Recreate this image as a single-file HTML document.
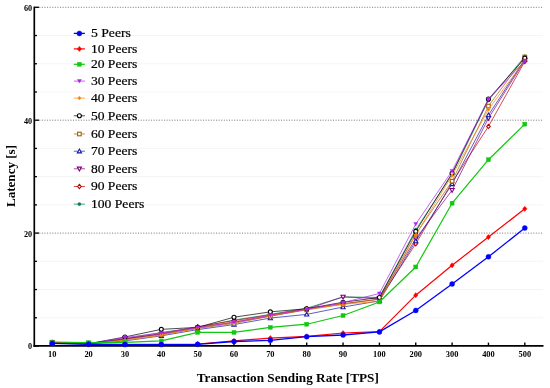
<!DOCTYPE html><html><head><meta charset="utf-8"><title>Latency vs Transaction Sending Rate</title>
<style>html,body{margin:0;padding:0;background:#fff}body{width:550px;height:388px;overflow:hidden}svg{display:block}text{font-family:"Liberation Serif","DejaVu Serif",serif}</style></head><body>
<svg width="550" height="388" viewBox="0 0 550 388">
<rect width="550" height="388" fill="#fff"/>
<line x1="34" x2="543" y1="317.77" y2="317.77" stroke="#f3f3f3" stroke-width="0.8"/>
<line x1="34" x2="543" y1="289.55" y2="289.55" stroke="#f3f3f3" stroke-width="0.8"/>
<line x1="34" x2="543" y1="261.32" y2="261.32" stroke="#f3f3f3" stroke-width="0.8"/>
<line x1="34" x2="543" y1="204.88" y2="204.88" stroke="#f3f3f3" stroke-width="0.8"/>
<line x1="34" x2="543" y1="176.65" y2="176.65" stroke="#f3f3f3" stroke-width="0.8"/>
<line x1="34" x2="543" y1="148.43" y2="148.43" stroke="#f3f3f3" stroke-width="0.8"/>
<line x1="34" x2="543" y1="91.98" y2="91.98" stroke="#f3f3f3" stroke-width="0.8"/>
<line x1="34" x2="543" y1="63.75" y2="63.75" stroke="#f3f3f3" stroke-width="0.8"/>
<line x1="34" x2="543" y1="35.53" y2="35.53" stroke="#f3f3f3" stroke-width="0.8"/>
<line x1="34" x2="543" y1="233.10" y2="233.10" stroke="#808080" stroke-width="1" stroke-dasharray="1.1 1.5"/>
<line x1="34" x2="543" y1="120.20" y2="120.20" stroke="#808080" stroke-width="1" stroke-dasharray="1.1 1.5"/>
<line x1="34" x2="543" y1="7.30" y2="7.30" stroke="#808080" stroke-width="1" stroke-dasharray="1.1 1.5"/>
<line x1="34.3" x2="34.3" y1="6.7" y2="346.7" stroke="#000" stroke-width="1.7"/>
<line x1="33.5" x2="543.5" y1="345.9" y2="345.9" stroke="#000" stroke-width="1.7"/>
<line x1="34" x2="39" y1="346.00" y2="346.00" stroke="#000" stroke-width="1.3"/>
<line x1="34" x2="37" y1="317.77" y2="317.77" stroke="#000" stroke-width="1.3"/>
<line x1="34" x2="37" y1="289.55" y2="289.55" stroke="#000" stroke-width="1.3"/>
<line x1="34" x2="37" y1="261.32" y2="261.32" stroke="#000" stroke-width="1.3"/>
<line x1="34" x2="39" y1="233.10" y2="233.10" stroke="#000" stroke-width="1.3"/>
<line x1="34" x2="37" y1="204.88" y2="204.88" stroke="#000" stroke-width="1.3"/>
<line x1="34" x2="37" y1="176.65" y2="176.65" stroke="#000" stroke-width="1.3"/>
<line x1="34" x2="37" y1="148.43" y2="148.43" stroke="#000" stroke-width="1.3"/>
<line x1="34" x2="39" y1="120.20" y2="120.20" stroke="#000" stroke-width="1.3"/>
<line x1="34" x2="37" y1="91.98" y2="91.98" stroke="#000" stroke-width="1.3"/>
<line x1="34" x2="37" y1="63.75" y2="63.75" stroke="#000" stroke-width="1.3"/>
<line x1="34" x2="37" y1="35.53" y2="35.53" stroke="#000" stroke-width="1.3"/>
<line x1="34" x2="39" y1="7.30" y2="7.30" stroke="#000" stroke-width="1.3"/>
<line x1="52.25" x2="52.25" y1="346" y2="342.6" stroke="#000" stroke-width="1.4"/>
<text x="52.25" y="357.4" font-size="8.4" font-weight="bold" text-anchor="middle">10</text>
<line x1="88.60" x2="88.60" y1="346" y2="342.6" stroke="#000" stroke-width="1.4"/>
<text x="88.60" y="357.4" font-size="8.4" font-weight="bold" text-anchor="middle">20</text>
<line x1="124.95" x2="124.95" y1="346" y2="342.6" stroke="#000" stroke-width="1.4"/>
<text x="124.95" y="357.4" font-size="8.4" font-weight="bold" text-anchor="middle">30</text>
<line x1="161.30" x2="161.30" y1="346" y2="342.6" stroke="#000" stroke-width="1.4"/>
<text x="161.30" y="357.4" font-size="8.4" font-weight="bold" text-anchor="middle">40</text>
<line x1="197.65" x2="197.65" y1="346" y2="342.6" stroke="#000" stroke-width="1.4"/>
<text x="197.65" y="357.4" font-size="8.4" font-weight="bold" text-anchor="middle">50</text>
<line x1="234.00" x2="234.00" y1="346" y2="342.6" stroke="#000" stroke-width="1.4"/>
<text x="234.00" y="357.4" font-size="8.4" font-weight="bold" text-anchor="middle">60</text>
<line x1="270.35" x2="270.35" y1="346" y2="342.6" stroke="#000" stroke-width="1.4"/>
<text x="270.35" y="357.4" font-size="8.4" font-weight="bold" text-anchor="middle">70</text>
<line x1="306.70" x2="306.70" y1="346" y2="342.6" stroke="#000" stroke-width="1.4"/>
<text x="306.70" y="357.4" font-size="8.4" font-weight="bold" text-anchor="middle">80</text>
<line x1="343.05" x2="343.05" y1="346" y2="342.6" stroke="#000" stroke-width="1.4"/>
<text x="343.05" y="357.4" font-size="8.4" font-weight="bold" text-anchor="middle">90</text>
<line x1="379.40" x2="379.40" y1="346" y2="342.6" stroke="#000" stroke-width="1.4"/>
<text x="379.40" y="357.4" font-size="8.4" font-weight="bold" text-anchor="middle">100</text>
<line x1="415.75" x2="415.75" y1="346" y2="342.6" stroke="#000" stroke-width="1.4"/>
<text x="415.75" y="357.4" font-size="8.4" font-weight="bold" text-anchor="middle">200</text>
<line x1="452.10" x2="452.10" y1="346" y2="342.6" stroke="#000" stroke-width="1.4"/>
<text x="452.10" y="357.4" font-size="8.4" font-weight="bold" text-anchor="middle">300</text>
<line x1="488.45" x2="488.45" y1="346" y2="342.6" stroke="#000" stroke-width="1.4"/>
<text x="488.45" y="357.4" font-size="8.4" font-weight="bold" text-anchor="middle">400</text>
<line x1="524.80" x2="524.80" y1="346" y2="342.6" stroke="#000" stroke-width="1.4"/>
<text x="524.80" y="357.4" font-size="8.4" font-weight="bold" text-anchor="middle">500</text>
<text x="32.2" y="349.40" font-size="8.2" font-weight="bold" text-anchor="end">0</text>
<text x="32.2" y="236.50" font-size="8.2" font-weight="bold" text-anchor="end">20</text>
<text x="32.2" y="123.60" font-size="8.2" font-weight="bold" text-anchor="end">40</text>
<text x="32.2" y="10.70" font-size="8.2" font-weight="bold" text-anchor="end">60</text>
<polyline points="52.25,342.61 88.60,343.74 124.95,338.66 161.30,332.45 197.65,327.37 234.00,320.03 270.35,314.39 306.70,308.18 343.05,296.89 379.40,297.45 415.75,229.71 452.10,174.39 488.45,100.44 524.80,56.41" fill="none" stroke="#008050" stroke-width="0.7" stroke-linejoin="round"/>
<circle cx="52.25" cy="342.61" r="1.60" fill="#008050" stroke="#008050" stroke-width="0.4"/>
<circle cx="88.60" cy="343.74" r="1.60" fill="#008050" stroke="#008050" stroke-width="0.4"/>
<circle cx="124.95" cy="338.66" r="1.60" fill="#008050" stroke="#008050" stroke-width="0.4"/>
<circle cx="161.30" cy="332.45" r="1.60" fill="#008050" stroke="#008050" stroke-width="0.4"/>
<circle cx="197.65" cy="327.37" r="1.60" fill="#008050" stroke="#008050" stroke-width="0.4"/>
<circle cx="234.00" cy="320.03" r="1.60" fill="#008050" stroke="#008050" stroke-width="0.4"/>
<circle cx="270.35" cy="314.39" r="1.60" fill="#008050" stroke="#008050" stroke-width="0.4"/>
<circle cx="306.70" cy="308.18" r="1.60" fill="#008050" stroke="#008050" stroke-width="0.4"/>
<circle cx="343.05" cy="296.89" r="1.60" fill="#008050" stroke="#008050" stroke-width="0.4"/>
<circle cx="379.40" cy="297.45" r="1.60" fill="#008050" stroke="#008050" stroke-width="0.4"/>
<circle cx="415.75" cy="229.71" r="1.60" fill="#008050" stroke="#008050" stroke-width="0.4"/>
<circle cx="452.10" cy="174.39" r="1.60" fill="#008050" stroke="#008050" stroke-width="0.4"/>
<circle cx="488.45" cy="100.44" r="1.60" fill="#008050" stroke="#008050" stroke-width="0.4"/>
<circle cx="524.80" cy="56.41" r="1.60" fill="#008050" stroke="#008050" stroke-width="0.4"/>
<polyline points="52.25,342.61 88.60,343.74 124.95,339.23 161.30,333.58 197.65,326.81 234.00,320.60 270.35,314.95 306.70,308.74 343.05,303.66 379.40,299.15 415.75,243.83 452.10,182.30 488.45,126.41 524.80,61.49" fill="none" stroke="#c00000" stroke-width="0.7" stroke-linejoin="round"/>
<polygon points="52.25,340.51 54.03,342.61 52.25,344.71 50.47,342.61" fill="#fff" stroke="#c00000" stroke-width="1.1"/>
<polygon points="88.60,341.64 90.38,343.74 88.60,345.84 86.81,343.74" fill="#fff" stroke="#c00000" stroke-width="1.1"/>
<polygon points="124.95,337.13 126.73,339.23 124.95,341.33 123.17,339.23" fill="#fff" stroke="#c00000" stroke-width="1.1"/>
<polygon points="161.30,331.48 163.09,333.58 161.30,335.68 159.52,333.58" fill="#fff" stroke="#c00000" stroke-width="1.1"/>
<polygon points="197.65,324.71 199.44,326.81 197.65,328.91 195.87,326.81" fill="#fff" stroke="#c00000" stroke-width="1.1"/>
<polygon points="234.00,318.50 235.78,320.60 234.00,322.70 232.22,320.60" fill="#fff" stroke="#c00000" stroke-width="1.1"/>
<polygon points="270.35,312.85 272.14,314.95 270.35,317.05 268.56,314.95" fill="#fff" stroke="#c00000" stroke-width="1.1"/>
<polygon points="306.70,306.64 308.49,308.74 306.70,310.84 304.92,308.74" fill="#fff" stroke="#c00000" stroke-width="1.1"/>
<polygon points="343.05,301.56 344.84,303.66 343.05,305.76 341.26,303.66" fill="#fff" stroke="#c00000" stroke-width="1.1"/>
<polygon points="379.40,297.05 381.19,299.15 379.40,301.25 377.62,299.15" fill="#fff" stroke="#c00000" stroke-width="1.1"/>
<polygon points="415.75,241.73 417.54,243.83 415.75,245.93 413.96,243.83" fill="#fff" stroke="#c00000" stroke-width="1.1"/>
<polygon points="452.10,180.20 453.89,182.30 452.10,184.40 450.31,182.30" fill="#fff" stroke="#c00000" stroke-width="1.1"/>
<polygon points="488.45,124.31 490.24,126.41 488.45,128.51 486.67,126.41" fill="#fff" stroke="#c00000" stroke-width="1.1"/>
<polygon points="524.80,59.39 526.58,61.49 524.80,63.59 523.01,61.49" fill="#fff" stroke="#c00000" stroke-width="1.1"/>
<polyline points="52.25,342.61 88.60,343.74 124.95,338.66 161.30,334.15 197.65,327.94 234.00,322.29 270.35,316.08 306.70,309.31 343.05,296.89 379.40,298.58 415.75,238.75 452.10,190.20 488.45,118.22 524.80,60.36" fill="none" stroke="#800080" stroke-width="0.7" stroke-linejoin="round"/>
<polygon points="52.25,344.71 54.35,340.93 50.15,340.93" fill="#fff" stroke="#800080" stroke-width="1.1"/>
<polygon points="88.60,345.84 90.70,342.06 86.50,342.06" fill="#fff" stroke="#800080" stroke-width="1.1"/>
<polygon points="124.95,340.76 127.05,336.98 122.85,336.98" fill="#fff" stroke="#800080" stroke-width="1.1"/>
<polygon points="161.30,336.25 163.40,332.47 159.20,332.47" fill="#fff" stroke="#800080" stroke-width="1.1"/>
<polygon points="197.65,330.04 199.75,326.26 195.55,326.26" fill="#fff" stroke="#800080" stroke-width="1.1"/>
<polygon points="234.00,324.39 236.10,320.61 231.90,320.61" fill="#fff" stroke="#800080" stroke-width="1.1"/>
<polygon points="270.35,318.18 272.45,314.40 268.25,314.40" fill="#fff" stroke="#800080" stroke-width="1.1"/>
<polygon points="306.70,311.41 308.80,307.63 304.60,307.63" fill="#fff" stroke="#800080" stroke-width="1.1"/>
<polygon points="343.05,298.99 345.15,295.21 340.95,295.21" fill="#fff" stroke="#800080" stroke-width="1.1"/>
<polygon points="379.40,300.68 381.50,296.90 377.30,296.90" fill="#fff" stroke="#800080" stroke-width="1.1"/>
<polygon points="415.75,240.84 417.85,237.06 413.65,237.06" fill="#fff" stroke="#800080" stroke-width="1.1"/>
<polygon points="452.10,192.30 454.20,188.52 450.00,188.52" fill="#fff" stroke="#800080" stroke-width="1.1"/>
<polygon points="488.45,120.32 490.55,116.54 486.35,116.54" fill="#fff" stroke="#800080" stroke-width="1.1"/>
<polygon points="524.80,62.46 526.90,58.68 522.70,58.68" fill="#fff" stroke="#800080" stroke-width="1.1"/>
<polyline points="52.25,342.61 88.60,343.74 124.95,340.92 161.30,335.84 197.65,329.63 234.00,324.55 270.35,318.06 306.70,314.39 343.05,307.05 379.40,300.84 415.75,241.00 452.10,183.99 488.45,115.12 524.80,59.23" fill="none" stroke="#1818a8" stroke-width="0.7" stroke-linejoin="round"/>
<polygon points="52.25,340.51 54.35,344.29 50.15,344.29" fill="#fff" stroke="#1818a8" stroke-width="1.1"/>
<polygon points="88.60,341.64 90.70,345.42 86.50,345.42" fill="#fff" stroke="#1818a8" stroke-width="1.1"/>
<polygon points="124.95,338.82 127.05,342.60 122.85,342.60" fill="#fff" stroke="#1818a8" stroke-width="1.1"/>
<polygon points="161.30,333.74 163.40,337.52 159.20,337.52" fill="#fff" stroke="#1818a8" stroke-width="1.1"/>
<polygon points="197.65,327.53 199.75,331.31 195.55,331.31" fill="#fff" stroke="#1818a8" stroke-width="1.1"/>
<polygon points="234.00,322.45 236.10,326.23 231.90,326.23" fill="#fff" stroke="#1818a8" stroke-width="1.1"/>
<polygon points="270.35,315.96 272.45,319.74 268.25,319.74" fill="#fff" stroke="#1818a8" stroke-width="1.1"/>
<polygon points="306.70,312.29 308.80,316.07 304.60,316.07" fill="#fff" stroke="#1818a8" stroke-width="1.1"/>
<polygon points="343.05,304.95 345.15,308.73 340.95,308.73" fill="#fff" stroke="#1818a8" stroke-width="1.1"/>
<polygon points="379.40,298.74 381.50,302.52 377.30,302.52" fill="#fff" stroke="#1818a8" stroke-width="1.1"/>
<polygon points="415.75,238.90 417.85,242.68 413.65,242.68" fill="#fff" stroke="#1818a8" stroke-width="1.1"/>
<polygon points="452.10,181.89 454.20,185.67 450.00,185.67" fill="#fff" stroke="#1818a8" stroke-width="1.1"/>
<polygon points="488.45,113.02 490.55,116.80 486.35,116.80" fill="#fff" stroke="#1818a8" stroke-width="1.1"/>
<polygon points="524.80,57.13 526.90,60.91 522.70,60.91" fill="#fff" stroke="#1818a8" stroke-width="1.1"/>
<polyline points="52.25,342.61 88.60,343.74 124.95,339.79 161.30,334.71 197.65,328.50 234.00,323.42 270.35,316.08 306.70,309.87 343.05,304.23 379.40,299.15 415.75,234.23 452.10,181.17 488.45,106.09 524.80,56.98" fill="none" stroke="#a06010" stroke-width="0.7" stroke-linejoin="round"/>
<rect x="50.45" y="340.81" width="3.60" height="3.60" fill="#fff" stroke="#a06010" stroke-width="1.1"/>
<rect x="86.80" y="341.94" width="3.60" height="3.60" fill="#fff" stroke="#a06010" stroke-width="1.1"/>
<rect x="123.15" y="337.99" width="3.60" height="3.60" fill="#fff" stroke="#a06010" stroke-width="1.1"/>
<rect x="159.50" y="332.91" width="3.60" height="3.60" fill="#fff" stroke="#a06010" stroke-width="1.1"/>
<rect x="195.85" y="326.70" width="3.60" height="3.60" fill="#fff" stroke="#a06010" stroke-width="1.1"/>
<rect x="232.20" y="321.62" width="3.60" height="3.60" fill="#fff" stroke="#a06010" stroke-width="1.1"/>
<rect x="268.55" y="314.28" width="3.60" height="3.60" fill="#fff" stroke="#a06010" stroke-width="1.1"/>
<rect x="304.90" y="308.07" width="3.60" height="3.60" fill="#fff" stroke="#a06010" stroke-width="1.1"/>
<rect x="341.25" y="302.43" width="3.60" height="3.60" fill="#fff" stroke="#a06010" stroke-width="1.1"/>
<rect x="377.60" y="297.35" width="3.60" height="3.60" fill="#fff" stroke="#a06010" stroke-width="1.1"/>
<rect x="413.95" y="232.43" width="3.60" height="3.60" fill="#fff" stroke="#a06010" stroke-width="1.1"/>
<rect x="450.30" y="179.37" width="3.60" height="3.60" fill="#fff" stroke="#a06010" stroke-width="1.1"/>
<rect x="486.65" y="104.29" width="3.60" height="3.60" fill="#fff" stroke="#a06010" stroke-width="1.1"/>
<rect x="523.00" y="55.18" width="3.60" height="3.60" fill="#fff" stroke="#a06010" stroke-width="1.1"/>
<polyline points="52.25,342.61 88.60,343.74 124.95,336.97 161.30,329.35 197.65,327.37 234.00,317.21 270.35,311.85 306.70,308.74 343.05,302.25 379.40,297.45 415.75,231.41 452.10,173.26 488.45,99.03 524.80,58.11" fill="none" stroke="#000000" stroke-width="0.7" stroke-linejoin="round"/>
<circle cx="52.25" cy="342.61" r="2.00" fill="#fff" stroke="#000000" stroke-width="1.1"/>
<circle cx="88.60" cy="343.74" r="2.00" fill="#fff" stroke="#000000" stroke-width="1.1"/>
<circle cx="124.95" cy="336.97" r="2.00" fill="#fff" stroke="#000000" stroke-width="1.1"/>
<circle cx="161.30" cy="329.35" r="2.00" fill="#fff" stroke="#000000" stroke-width="1.1"/>
<circle cx="197.65" cy="327.37" r="2.00" fill="#fff" stroke="#000000" stroke-width="1.1"/>
<circle cx="234.00" cy="317.21" r="2.00" fill="#fff" stroke="#000000" stroke-width="1.1"/>
<circle cx="270.35" cy="311.85" r="2.00" fill="#fff" stroke="#000000" stroke-width="1.1"/>
<circle cx="306.70" cy="308.74" r="2.00" fill="#fff" stroke="#000000" stroke-width="1.1"/>
<circle cx="343.05" cy="302.25" r="2.00" fill="#fff" stroke="#000000" stroke-width="1.1"/>
<circle cx="379.40" cy="297.45" r="2.00" fill="#fff" stroke="#000000" stroke-width="1.1"/>
<circle cx="415.75" cy="231.41" r="2.00" fill="#fff" stroke="#000000" stroke-width="1.1"/>
<circle cx="452.10" cy="173.26" r="2.00" fill="#fff" stroke="#000000" stroke-width="1.1"/>
<circle cx="488.45" cy="99.03" r="2.00" fill="#fff" stroke="#000000" stroke-width="1.1"/>
<circle cx="524.80" cy="58.11" r="2.00" fill="#fff" stroke="#000000" stroke-width="1.1"/>
<polyline points="52.25,342.61 88.60,343.74 124.95,340.36 161.30,335.27 197.65,327.94 234.00,321.73 270.35,315.52 306.70,309.31 343.05,304.23 379.40,301.40 415.75,234.79 452.10,175.52 488.45,109.47 524.80,60.36" fill="none" stroke="#ff8000" stroke-width="0.7" stroke-linejoin="round"/>
<polygon points="52.25,340.71 53.87,342.61 52.25,344.51 50.63,342.61" fill="#ff8000" stroke="#ff8000" stroke-width="0.4"/>
<polygon points="88.60,341.84 90.21,343.74 88.60,345.64 86.98,343.74" fill="#ff8000" stroke="#ff8000" stroke-width="0.4"/>
<polygon points="124.95,338.46 126.56,340.36 124.95,342.25 123.34,340.36" fill="#ff8000" stroke="#ff8000" stroke-width="0.4"/>
<polygon points="161.30,333.37 162.92,335.27 161.30,337.17 159.69,335.27" fill="#ff8000" stroke="#ff8000" stroke-width="0.4"/>
<polygon points="197.65,326.04 199.27,327.94 197.65,329.84 196.03,327.94" fill="#ff8000" stroke="#ff8000" stroke-width="0.4"/>
<polygon points="234.00,319.83 235.62,321.73 234.00,323.63 232.38,321.73" fill="#ff8000" stroke="#ff8000" stroke-width="0.4"/>
<polygon points="270.35,313.62 271.97,315.52 270.35,317.42 268.74,315.52" fill="#ff8000" stroke="#ff8000" stroke-width="0.4"/>
<polygon points="306.70,307.41 308.32,309.31 306.70,311.21 305.09,309.31" fill="#ff8000" stroke="#ff8000" stroke-width="0.4"/>
<polygon points="343.05,302.33 344.67,304.23 343.05,306.13 341.44,304.23" fill="#ff8000" stroke="#ff8000" stroke-width="0.4"/>
<polygon points="379.40,299.50 381.02,301.40 379.40,303.30 377.79,301.40" fill="#ff8000" stroke="#ff8000" stroke-width="0.4"/>
<polygon points="415.75,232.89 417.37,234.79 415.75,236.69 414.13,234.79" fill="#ff8000" stroke="#ff8000" stroke-width="0.4"/>
<polygon points="452.10,173.62 453.72,175.52 452.10,177.42 450.49,175.52" fill="#ff8000" stroke="#ff8000" stroke-width="0.4"/>
<polygon points="488.45,107.57 490.07,109.47 488.45,111.37 486.84,109.47" fill="#ff8000" stroke="#ff8000" stroke-width="0.4"/>
<polygon points="524.80,58.46 526.41,60.36 524.80,62.26 523.18,60.36" fill="#ff8000" stroke="#ff8000" stroke-width="0.4"/>
<polyline points="52.25,342.61 88.60,343.74 124.95,337.53 161.30,333.02 197.65,327.37 234.00,322.29 270.35,314.95 306.70,309.31 343.05,302.53 379.40,293.50 415.75,224.07 452.10,171.01 488.45,99.31 524.80,60.93" fill="none" stroke="#b020f0" stroke-width="0.7" stroke-linejoin="round"/>
<polygon points="52.25,344.61 54.25,341.01 50.25,341.01" fill="#b020f0" stroke="#b020f0" stroke-width="0.4"/>
<polygon points="88.60,345.74 90.60,342.14 86.60,342.14" fill="#b020f0" stroke="#b020f0" stroke-width="0.4"/>
<polygon points="124.95,339.53 126.95,335.93 122.95,335.93" fill="#b020f0" stroke="#b020f0" stroke-width="0.4"/>
<polygon points="161.30,335.02 163.30,331.42 159.30,331.42" fill="#b020f0" stroke="#b020f0" stroke-width="0.4"/>
<polygon points="197.65,329.37 199.65,325.77 195.65,325.77" fill="#b020f0" stroke="#b020f0" stroke-width="0.4"/>
<polygon points="234.00,324.29 236.00,320.69 232.00,320.69" fill="#b020f0" stroke="#b020f0" stroke-width="0.4"/>
<polygon points="270.35,316.95 272.35,313.35 268.35,313.35" fill="#b020f0" stroke="#b020f0" stroke-width="0.4"/>
<polygon points="306.70,311.31 308.70,307.71 304.70,307.71" fill="#b020f0" stroke="#b020f0" stroke-width="0.4"/>
<polygon points="343.05,304.53 345.05,300.93 341.05,300.93" fill="#b020f0" stroke="#b020f0" stroke-width="0.4"/>
<polygon points="379.40,295.50 381.40,291.90 377.40,291.90" fill="#b020f0" stroke="#b020f0" stroke-width="0.4"/>
<polygon points="415.75,226.07 417.75,222.47 413.75,222.47" fill="#b020f0" stroke="#b020f0" stroke-width="0.4"/>
<polygon points="452.10,173.01 454.10,169.41 450.10,169.41" fill="#b020f0" stroke="#b020f0" stroke-width="0.4"/>
<polygon points="488.45,101.31 490.45,97.71 486.45,97.71" fill="#b020f0" stroke="#b020f0" stroke-width="0.4"/>
<polygon points="524.80,62.93 526.80,59.33 522.80,59.33" fill="#b020f0" stroke="#b020f0" stroke-width="0.4"/>
<polyline points="52.25,342.05 88.60,342.61 124.95,342.33 161.30,340.92 197.65,332.45 234.00,332.45 270.35,327.37 306.70,324.21 343.05,315.52 379.40,301.97 415.75,266.97 452.10,203.18 488.45,159.72 524.80,124.15" fill="none" stroke="#10c810" stroke-width="1.2" stroke-linejoin="round"/>
<rect x="50.25" y="340.05" width="4.00" height="4.00" fill="#10c810" stroke="#10c810" stroke-width="0.4"/>
<rect x="86.60" y="340.61" width="4.00" height="4.00" fill="#10c810" stroke="#10c810" stroke-width="0.4"/>
<rect x="122.95" y="340.33" width="4.00" height="4.00" fill="#10c810" stroke="#10c810" stroke-width="0.4"/>
<rect x="159.30" y="338.92" width="4.00" height="4.00" fill="#10c810" stroke="#10c810" stroke-width="0.4"/>
<rect x="195.65" y="330.45" width="4.00" height="4.00" fill="#10c810" stroke="#10c810" stroke-width="0.4"/>
<rect x="232.00" y="330.45" width="4.00" height="4.00" fill="#10c810" stroke="#10c810" stroke-width="0.4"/>
<rect x="268.35" y="325.37" width="4.00" height="4.00" fill="#10c810" stroke="#10c810" stroke-width="0.4"/>
<rect x="304.70" y="322.21" width="4.00" height="4.00" fill="#10c810" stroke="#10c810" stroke-width="0.4"/>
<rect x="341.05" y="313.52" width="4.00" height="4.00" fill="#10c810" stroke="#10c810" stroke-width="0.4"/>
<rect x="377.40" y="299.97" width="4.00" height="4.00" fill="#10c810" stroke="#10c810" stroke-width="0.4"/>
<rect x="413.75" y="264.97" width="4.00" height="4.00" fill="#10c810" stroke="#10c810" stroke-width="0.4"/>
<rect x="450.10" y="201.18" width="4.00" height="4.00" fill="#10c810" stroke="#10c810" stroke-width="0.4"/>
<rect x="486.45" y="157.72" width="4.00" height="4.00" fill="#10c810" stroke="#10c810" stroke-width="0.4"/>
<rect x="522.80" y="122.15" width="4.00" height="4.00" fill="#10c810" stroke="#10c810" stroke-width="0.4"/>
<polyline points="52.25,343.18 88.60,344.02 124.95,344.31 161.30,344.31 197.65,344.02 234.00,340.92 270.35,338.10 306.70,336.40 343.05,333.02 379.40,331.61 415.75,295.19 452.10,265.28 488.45,237.05 524.80,208.83" fill="none" stroke="#ff0000" stroke-width="1.2" stroke-linejoin="round"/>
<polygon points="52.25,340.58 54.46,343.18 52.25,345.78 50.04,343.18" fill="#ff0000" stroke="#ff0000" stroke-width="0.4"/>
<polygon points="88.60,341.42 90.81,344.02 88.60,346.62 86.39,344.02" fill="#ff0000" stroke="#ff0000" stroke-width="0.4"/>
<polygon points="124.95,341.71 127.16,344.31 124.95,346.91 122.74,344.31" fill="#ff0000" stroke="#ff0000" stroke-width="0.4"/>
<polygon points="161.30,341.71 163.51,344.31 161.30,346.91 159.09,344.31" fill="#ff0000" stroke="#ff0000" stroke-width="0.4"/>
<polygon points="197.65,341.42 199.86,344.02 197.65,346.62 195.44,344.02" fill="#ff0000" stroke="#ff0000" stroke-width="0.4"/>
<polygon points="234.00,338.32 236.21,340.92 234.00,343.52 231.79,340.92" fill="#ff0000" stroke="#ff0000" stroke-width="0.4"/>
<polygon points="270.35,335.50 272.56,338.10 270.35,340.70 268.14,338.10" fill="#ff0000" stroke="#ff0000" stroke-width="0.4"/>
<polygon points="306.70,333.80 308.91,336.40 306.70,339.00 304.49,336.40" fill="#ff0000" stroke="#ff0000" stroke-width="0.4"/>
<polygon points="343.05,330.42 345.26,333.02 343.05,335.62 340.84,333.02" fill="#ff0000" stroke="#ff0000" stroke-width="0.4"/>
<polygon points="379.40,329.01 381.61,331.61 379.40,334.21 377.19,331.61" fill="#ff0000" stroke="#ff0000" stroke-width="0.4"/>
<polygon points="415.75,292.59 417.96,295.19 415.75,297.80 413.54,295.19" fill="#ff0000" stroke="#ff0000" stroke-width="0.4"/>
<polygon points="452.10,262.68 454.31,265.28 452.10,267.88 449.89,265.28" fill="#ff0000" stroke="#ff0000" stroke-width="0.4"/>
<polygon points="488.45,234.45 490.66,237.05 488.45,239.65 486.24,237.05" fill="#ff0000" stroke="#ff0000" stroke-width="0.4"/>
<polygon points="524.80,206.23 527.01,208.83 524.80,211.43 522.59,208.83" fill="#ff0000" stroke="#ff0000" stroke-width="0.4"/>
<polyline points="52.25,343.46 88.60,344.31 124.95,344.59 161.30,344.59 197.65,344.31 234.00,341.48 270.35,340.36 306.70,336.69 343.05,334.99 379.40,331.89 415.75,310.44 452.10,283.90 488.45,256.81 524.80,228.02" fill="none" stroke="#0000ff" stroke-width="1.3" stroke-linejoin="round"/>
<circle cx="52.25" cy="343.46" r="2.50" fill="#0000ff" stroke="#0000ff" stroke-width="0.4"/>
<circle cx="88.60" cy="344.31" r="2.50" fill="#0000ff" stroke="#0000ff" stroke-width="0.4"/>
<circle cx="124.95" cy="344.59" r="2.50" fill="#0000ff" stroke="#0000ff" stroke-width="0.4"/>
<circle cx="161.30" cy="344.59" r="2.50" fill="#0000ff" stroke="#0000ff" stroke-width="0.4"/>
<circle cx="197.65" cy="344.31" r="2.50" fill="#0000ff" stroke="#0000ff" stroke-width="0.4"/>
<circle cx="234.00" cy="341.48" r="2.50" fill="#0000ff" stroke="#0000ff" stroke-width="0.4"/>
<circle cx="270.35" cy="340.36" r="2.50" fill="#0000ff" stroke="#0000ff" stroke-width="0.4"/>
<circle cx="306.70" cy="336.69" r="2.50" fill="#0000ff" stroke="#0000ff" stroke-width="0.4"/>
<circle cx="343.05" cy="334.99" r="2.50" fill="#0000ff" stroke="#0000ff" stroke-width="0.4"/>
<circle cx="379.40" cy="331.89" r="2.50" fill="#0000ff" stroke="#0000ff" stroke-width="0.4"/>
<circle cx="415.75" cy="310.44" r="2.50" fill="#0000ff" stroke="#0000ff" stroke-width="0.4"/>
<circle cx="452.10" cy="283.90" r="2.50" fill="#0000ff" stroke="#0000ff" stroke-width="0.4"/>
<circle cx="488.45" cy="256.81" r="2.50" fill="#0000ff" stroke="#0000ff" stroke-width="0.4"/>
<circle cx="524.80" cy="228.02" r="2.50" fill="#0000ff" stroke="#0000ff" stroke-width="0.4"/>
<text x="287.8" y="382" font-size="13.2" font-weight="bold" text-anchor="middle" textLength="182" lengthAdjust="spacingAndGlyphs">Transaction Sending Rate [TPS]</text>
<text transform="translate(14.7,176) rotate(-90)" font-size="13.2" font-weight="bold" text-anchor="middle" textLength="62" lengthAdjust="spacingAndGlyphs">Latency [s]</text>
<line x1="73.8" x2="84.9" y1="33.4" y2="33.4" stroke="#0000ff" stroke-width="1.3"/>
<circle cx="79.40" cy="33.40" r="2.50" fill="#0000ff" stroke="#0000ff" stroke-width="0.4"/>
<text x="90.9" y="37.3" font-size="12.6" textLength="40" lengthAdjust="spacingAndGlyphs" fill="#000" stroke="#000" stroke-width="0.2">5 Peers</text>
<line x1="73.8" x2="84.9" y1="48.9" y2="48.9" stroke="#ff0000" stroke-width="1.2"/>
<polygon points="79.40,46.30 81.61,48.90 79.40,51.50 77.19,48.90" fill="#ff0000" stroke="#ff0000" stroke-width="0.4"/>
<text x="90.9" y="52.8" font-size="12.6" textLength="46.4" lengthAdjust="spacingAndGlyphs" fill="#000" stroke="#000" stroke-width="0.2">10 Peers</text>
<line x1="73.8" x2="84.9" y1="64.3" y2="64.3" stroke="#10c810" stroke-width="1.2"/>
<rect x="77.40" y="62.30" width="4.00" height="4.00" fill="#10c810" stroke="#10c810" stroke-width="0.4"/>
<text x="90.9" y="68.2" font-size="12.6" textLength="46.4" lengthAdjust="spacingAndGlyphs" fill="#000" stroke="#000" stroke-width="0.2">20 Peers</text>
<line x1="73.8" x2="84.9" y1="81.1" y2="81.1" stroke="#b020f0" stroke-width="0.7"/>
<polygon points="79.40,83.10 81.40,79.50 77.40,79.50" fill="#b020f0" stroke="#b020f0" stroke-width="0.4"/>
<text x="90.9" y="85.0" font-size="12.6" textLength="46.4" lengthAdjust="spacingAndGlyphs" fill="#000" stroke="#000" stroke-width="0.2">30 Peers</text>
<line x1="73.8" x2="84.9" y1="98.1" y2="98.1" stroke="#ff8000" stroke-width="0.7"/>
<polygon points="79.40,96.20 81.02,98.10 79.40,100.00 77.79,98.10" fill="#ff8000" stroke="#ff8000" stroke-width="0.4"/>
<text x="90.9" y="102.0" font-size="12.6" textLength="46.4" lengthAdjust="spacingAndGlyphs" fill="#000" stroke="#000" stroke-width="0.2">40 Peers</text>
<line x1="73.8" x2="84.9" y1="115.8" y2="115.8" stroke="#000000" stroke-width="0.7"/>
<circle cx="79.40" cy="115.80" r="2.00" fill="#fff" stroke="#000000" stroke-width="1.1"/>
<text x="90.9" y="119.7" font-size="12.6" textLength="46.4" lengthAdjust="spacingAndGlyphs" fill="#000" stroke="#000" stroke-width="0.2">50 Peers</text>
<line x1="73.8" x2="84.9" y1="134" y2="134" stroke="#a06010" stroke-width="0.7"/>
<rect x="77.60" y="132.20" width="3.60" height="3.60" fill="#fff" stroke="#a06010" stroke-width="1.1"/>
<text x="90.9" y="137.9" font-size="12.6" textLength="46.4" lengthAdjust="spacingAndGlyphs" fill="#000" stroke="#000" stroke-width="0.2">60 Peers</text>
<line x1="73.8" x2="84.9" y1="151.2" y2="151.2" stroke="#1818a8" stroke-width="0.7"/>
<polygon points="79.40,149.10 81.50,152.88 77.30,152.88" fill="#fff" stroke="#1818a8" stroke-width="1.1"/>
<text x="90.9" y="155.1" font-size="12.6" textLength="46.4" lengthAdjust="spacingAndGlyphs" fill="#000" stroke="#000" stroke-width="0.2">70 Peers</text>
<line x1="73.8" x2="84.9" y1="168.8" y2="168.8" stroke="#800080" stroke-width="0.7"/>
<polygon points="79.40,170.90 81.50,167.12 77.30,167.12" fill="#fff" stroke="#800080" stroke-width="1.1"/>
<text x="90.9" y="172.7" font-size="12.6" textLength="46.4" lengthAdjust="spacingAndGlyphs" fill="#000" stroke="#000" stroke-width="0.2">80 Peers</text>
<line x1="73.8" x2="84.9" y1="186.5" y2="186.5" stroke="#c00000" stroke-width="0.7"/>
<polygon points="79.40,184.40 81.19,186.50 79.40,188.60 77.62,186.50" fill="#fff" stroke="#c00000" stroke-width="1.1"/>
<text x="90.9" y="190.4" font-size="12.6" textLength="46.4" lengthAdjust="spacingAndGlyphs" fill="#000" stroke="#000" stroke-width="0.2">90 Peers</text>
<line x1="73.8" x2="84.9" y1="204.1" y2="204.1" stroke="#008050" stroke-width="0.7"/>
<circle cx="79.40" cy="204.10" r="1.60" fill="#008050" stroke="#008050" stroke-width="0.4"/>
<text x="90.9" y="208.0" font-size="12.6" textLength="53.4" lengthAdjust="spacingAndGlyphs" fill="#000" stroke="#000" stroke-width="0.2">100 Peers</text>
</svg></body></html>
